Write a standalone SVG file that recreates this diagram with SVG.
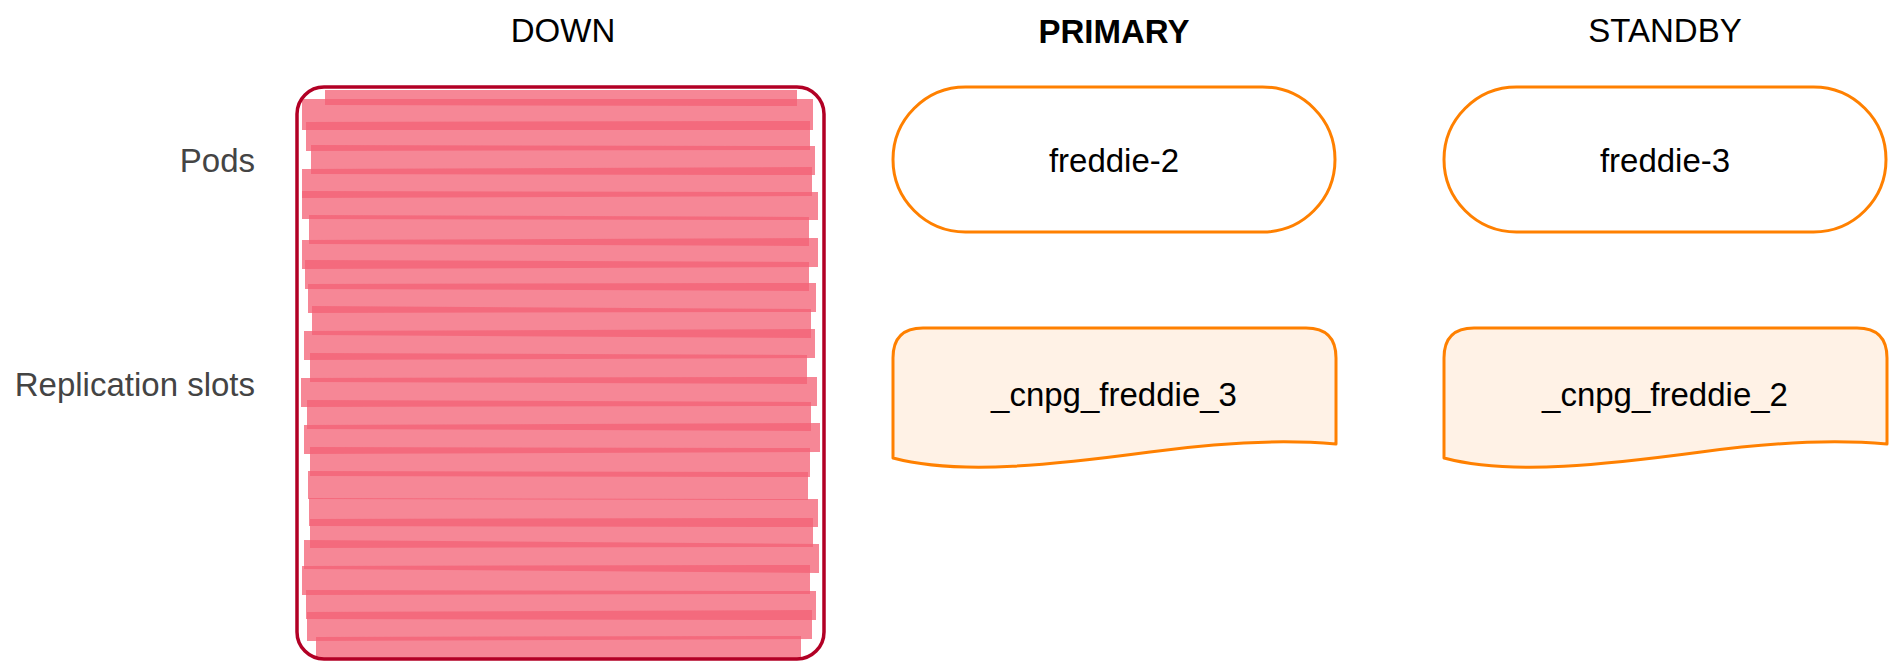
<svg xmlns="http://www.w3.org/2000/svg" width="1889" height="662" viewBox="0 0 1889 662">
<style>
.t{font-family:"Liberation Sans",Arial,sans-serif;font-size:33px;fill:#000;text-anchor:middle}
.b{font-weight:bold}
.l{font-family:"Liberation Sans",Arial,sans-serif;font-size:33px;fill:#444;text-anchor:end}
.pill{fill:#fff;stroke:#FF8000;stroke-width:3}
.slot{fill:#FFF2E6;stroke:#FF8000;stroke-width:3;stroke-linejoin:round}
.h{fill:#F36175;fill-opacity:0.76}
.down{fill:none;stroke:#B20025;stroke-width:3.5}
</style>
<g id="headers">
<text class="t" x="563" y="42">DOWN</text>
<text class="t b" x="1114" y="43">PRIMARY</text>
<text class="t" x="1665" y="42">STANDBY</text>
</g>
<g id="row-labels">
<text class="l" x="255" y="172">Pods</text>
<text class="l" x="255" y="396">Replication slots</text>
</g>
<g id="down-node">
<path class="h" d="M325,90 L797,90 L797,106 L325,105 Z"/>
<path class="h" d="M302,99 L813,99 L813,130 L302,130 Z"/>
<path class="h" d="M306,122 L810,121 L810,150 L306,151 Z"/>
<path class="h" d="M311,145 L815,146 L815,175 L311,174 Z"/>
<path class="h" d="M302,169 L812,167 L812,196 L302,198 Z"/>
<path class="h" d="M302,191 L818,192 L818,220 L302,219 Z"/>
<path class="h" d="M309,215 L809,217 L809,246 L309,244 Z"/>
<path class="h" d="M302,240 L818,238 L818,267 L302,269 Z"/>
<path class="h" d="M305,260 L809,262 L809,291 L305,289 Z"/>
<path class="h" d="M308,284 L816,283 L816,312 L308,313 Z"/>
<path class="h" d="M312,306 L811,309 L811,338 L312,335 Z"/>
<path class="h" d="M304,331 L815,329 L815,358 L304,360 Z"/>
<path class="h" d="M310,353 L807,355 L807,384 L310,382 Z"/>
<path class="h" d="M301,378 L817,377 L817,406 L301,407 Z"/>
<path class="h" d="M307,400 L811,402 L811,431 L307,429 Z"/>
<path class="h" d="M304,425 L820,423 L820,452 L304,454 Z"/>
<path class="h" d="M310,447 L810,448 L810,477 L310,476 Z"/>
<path class="h" d="M308,471 L808,472 L808,500 L308,499 Z"/>
<path class="h" d="M309,498 L818,499 L818,527 L309,526 Z"/>
<path class="h" d="M310,519 L813,518 L813,547 L310,548 Z"/>
<path class="h" d="M304,540 L819,544 L819,573 L304,569 Z"/>
<path class="h" d="M302,566 L810,565 L810,594 L302,595 Z"/>
<path class="h" d="M306,590 L816,591 L816,620 L306,619 Z"/>
<path class="h" d="M307,612 L812,610 L812,639 L307,641 Z"/>
<path class="h" d="M316,637 L801,636 L801,658 L316,658 Z"/>
<rect class="down" x="297" y="87" width="527" height="572" rx="27" ry="27"/>
</g>
<g id="pod-freddie-2">
<rect class="pill" x="893" y="87" width="442" height="145" rx="72.5" ry="72.5"/>
<text class="t" x="1114" y="172">freddie-2</text>
</g>
<g id="pod-freddie-3">
<rect class="pill" x="1444" y="87" width="442" height="145" rx="72.5" ry="72.5"/>
<text class="t" x="1665" y="172">freddie-3</text>
</g>
<g id="slot-primary">
<path class="slot" d="M893,458 L893,358 Q893,328 923,328 L1306,328 Q1336,328 1336,358 L1336,444 C1290,440 1230,441 1150,452 C1060,464 960,476 893,458 Z"/>
<text class="t" x="1114" y="406">_cnpg_freddie_3</text>
</g>
<g id="slot-standby">
<path class="slot" d="M1444,458 L1444,358 Q1444,328 1474,328 L1857,328 Q1887,328 1887,358 L1887,444 C1841,440 1781,441 1701,452 C1611,464 1511,476 1444,458 Z"/>
<text class="t" x="1665" y="406">_cnpg_freddie_2</text>
</g>
<g id="connectors"></g>
</svg>
